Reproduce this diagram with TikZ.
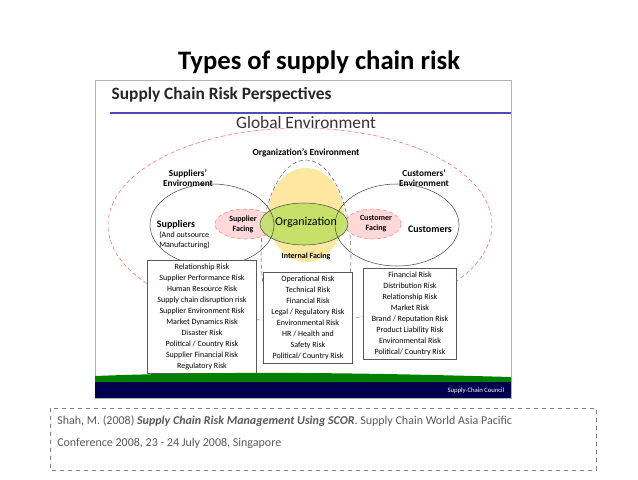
\documentclass[tikz,border=0pt]{standalone}
\usepackage{fontspec}
\setmainfont{Carlito}
\begin{document}
\begin{tikzpicture}[x=0.75pt,y=-0.75pt,
  lbl/.style={font=\fontsize{7}{8}\selectfont\bfseries,align=center,inner sep=0pt},
  risk/.style={draw=gray!70!black,fill=white,align=center,font=\fontsize{6}{8.2}\selectfont,inner sep=3pt},
  reddash/.style={draw=red!60,densely dashed,thin}]
\useasboundingbox (0,0) rectangle (638,479);
\node[font=\fontsize{20}{22}\selectfont\bfseries] (title) at (319,62) {Types of supply chain risk};
\draw[gray!60] (95,80) rectangle (511,398);
\node[anchor=west,font=\fontsize{13}{15}\selectfont\bfseries,text=black!85] (sub) at (107,95) {Supply Chain Risk Perspectives};
\draw[blue!40!gray,line width=1pt] (110,113) -- (511,113);
\node[font=\fontsize{13}{15}\selectfont,text=black!80] (glob) at (306,123) {Global Environment};
\draw[reddash] (300,225) ellipse (192 and 97);
\fill[yellow!55!orange!35] (306,215) ellipse (38 and 47);
\draw[black!60,densely dashed] (306,255) ellipse (45 and 95);
\fill[pink!60] (245,224) ellipse (30 and 15);
\fill[pink!60] (373,224) ellipse (28 and 15);
\draw[red!50,densely dashed] (245,224) ellipse (30 and 15);
\draw[red!50,densely dashed] (373,224) ellipse (28 and 15);
\fill[yellow!60!green!70,opacity=0.8] (304,224) ellipse (44 and 21);
\draw[black!70] (304,224) ellipse (44 and 21);
\draw[black!70] (212,225) ellipse (62 and 41);
\draw[black!70] (397,225) ellipse (62 and 41);
\node[lbl] (oe) at (306,153) {Organization’s Environment};
\node[lbl] (se) at (188,178) {Suppliers’\\Environment};
\node[lbl] (ce) at (424,178) {Customers’\\Environment};
\node[lbl,font=\fontsize{7.5}{8}\selectfont\bfseries] (sup) at (176,225) {Suppliers};
\node[font=\fontsize{6}{7.5}\selectfont,align=left,inner sep=0pt,anchor=west] (sout) at (159,240) {(And outsource\\Manufacturing)};
\node[lbl,font=\fontsize{6}{7.5}\selectfont\bfseries] (sf) at (243,224) {Supplier\\Facing};
\node[font=\fontsize{9}{10}\selectfont,inner sep=0pt] (org) at (306,222) {Organization};
\node[lbl,font=\fontsize{6}{7.5}\selectfont\bfseries] (cf) at (376,224) {Customer\\Facing};
\node[lbl,font=\fontsize{7.5}{8}\selectfont\bfseries] (cus) at (430,229) {Customers};
\node[lbl,font=\fontsize{6}{7.5}\selectfont\bfseries] (intf) at (306,256) {Internal Facing};
\node[risk,minimum width=82pt] (lb) at (202,317) {Relationship Risk\\Supplier Performance Risk\\Human Resource Risk\\Supply chain disruption risk\\Supplier Environment Risk\\Market Dynamics Risk\\Disaster Risk\\Political / Country Risk\\Supplier Financial Risk\\Regulatory Risk};
\node[risk,minimum width=67pt] (mb) at (308,318) {Operational Risk\\Technical Risk\\Financial Risk\\Legal / Regulatory Risk\\Environmental Risk\\HR / Health and\\Safety Risk\\Political/ Country Risk};
\node[risk,minimum width=70pt] (rb) at (410,314) {Financial Risk\\Distribution Risk\\Relationship Risk\\Market Risk\\Brand / Reputation Risk\\Product Liability Risk\\Environmental Risk\\Political/ Country Risk};
\fill[green!50!black] (95,376) .. controls (250,370) and (400,374) .. (511,377) -- (511,383) -- (95,383) -- cycle;
\fill[blue!30!black] (95,382) rectangle (511,398);
\node[anchor=east,text=white,font=\fontsize{5}{6}\selectfont] (scc) at (509,391) {Supply-Chain Council};
\draw[gray,dashed] (50,408) rectangle (596,470);
\node[anchor=north west,align=left,text=black!65,font=\fontsize{9}{16.5}\selectfont,inner sep=0pt] (cite) at (57,415) {Shah, M. (2008) \textbf{\textit{Supply Chain Risk Management Using SCOR}}. Supply Chain World Asia Pacific\\Conference 2008, 23 - 24 July 2008, Singapore};
\end{tikzpicture}
\end{document}
